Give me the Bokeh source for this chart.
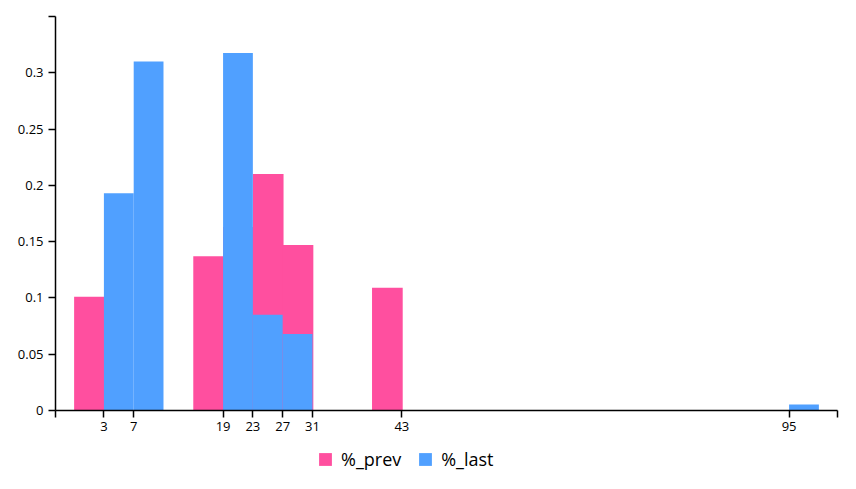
from bokeh.plotting import figure
from bokeh.models import Range1d, FixedTicker, Legend, LegendItem, ColumnDataSource
from bokeh.layouts import column
from bokeh.embed import file_html
from bokeh.resources import INLINE

# Data (bin start, value)
prev_bin_start = [-1, 15, 19, 23, 27, 39]
prev_values = [0.101, 0.137, 0.163, 0.210, 0.147, 0.109]
last_bin_start = [3, 7, 19, 23, 27, 95]
last_values = [0.193, 0.310, 0.3175, 0.085, 0.068, 0.0053]
bin_width = 4
x_tick_values = [3, 7, 19, 23, 27, 31, 43, 95]
y_tick_values = [0, 0.05, 0.1, 0.15, 0.2, 0.25, 0.3]
y_tick_labels = ["0", "0.05", "0.1", "0.15", "0.2", "0.25", "0.3"]
series_names = ["%_prev", "%_last"]

PINK = "#FF4F9F"
BLUE = "#50A0FF"
FONT = "Open Sans"

x_lo, x_hi = -3.5, 101.5
y_lo, y_hi = 0, 0.35

p = figure(width=848, height=440, output_backend="svg", toolbar_location=None,
           x_range=Range1d(x_lo, x_hi), y_range=Range1d(y_lo, y_hi),
           min_border_left=55, min_border_right=11, min_border_top=16,
           min_border_bottom=30)
p.outline_line_color = None
p.xgrid.visible = False
p.ygrid.visible = False
p.background_fill_color = "white"
p.border_fill_color = "white"

prev_src = ColumnDataSource(dict(
    left=prev_bin_start,
    right=[s + bin_width * 1.03 for s in prev_bin_start],
    top=prev_values,
    bottom=[0] * len(prev_values)))
last_src = ColumnDataSource(dict(
    left=last_bin_start,
    right=[s + bin_width for s in last_bin_start],
    top=last_values,
    bottom=[0] * len(last_values)))

p.quad(left="left", right="right", top="top", bottom="bottom",
       source=prev_src, fill_color=PINK, line_color=None)
p.quad(left="left", right="right", top="top", bottom="bottom",
       source=last_src, fill_color=BLUE, line_color=None)

# Axes
xa = p.xaxis[0]
xa.ticker = FixedTicker(ticks=[x_lo] + x_tick_values + [x_hi])
xa.major_label_overrides = {x_lo: "", x_hi: ""}
xa.minor_tick_line_color = None
xa.major_tick_out = 7
xa.major_tick_in = 0
xa.major_label_standoff = 4
xa.axis_line_width = 1.5
xa.major_tick_line_width = 1.5
xa.major_label_text_font = FONT
xa.major_label_text_font_size = "13px"
xa.major_label_text_color = "black"

ya = p.yaxis[0]
ya.ticker = FixedTicker(ticks=y_tick_values + [y_hi])
ov = {v: l for v, l in zip(y_tick_values, y_tick_labels)}
ov[y_hi] = ""
ya.major_label_overrides = ov
ya.minor_tick_line_color = None
ya.major_tick_out = 7
ya.major_tick_in = 0
ya.major_label_standoff = 5
ya.axis_line_width = 1.5
ya.major_tick_line_width = 1.5
ya.major_label_text_font = FONT
ya.major_label_text_font_size = "13px"
ya.major_label_text_color = "black"

# Legend strip below the chart (its frame is aligned with the chart's frame)
lg = figure(width=848, height=43, output_backend="svg", toolbar_location=None,
            x_range=Range1d(0, 1), y_range=Range1d(0, 1),
            x_axis_location=None, y_axis_location=None,
            min_border=0)
lg.outline_line_color = None
lg.xgrid.visible = False
lg.ygrid.visible = False
# swatch renderers placed outside the visible range (only used for legend glyphs)
swatch = dict(left=[5], right=[6], top=[5], bottom=[4])
g_prev = lg.quad(left="left", right="right", top="top", bottom="bottom",
                 source=ColumnDataSource(swatch), fill_color=PINK, line_color=None)
g_last = lg.quad(left="left", right="right", top="top", bottom="bottom",
                 source=ColumnDataSource(swatch), fill_color=BLUE, line_color=None)

legend = Legend(items=[LegendItem(label=series_names[0], renderers=[g_prev]),
                       LegendItem(label=series_names[1], renderers=[g_last])],
                orientation="horizontal", location=(262, 12),
                padding=0, margin=0, spacing=16,
                glyph_width=16, glyph_height=16, label_height=16,
                label_standoff=8,
                label_text_font=FONT, label_text_font_size="18px",
                label_text_color="black",
                border_line_color=None, background_fill_alpha=0)
lg.add_layout(legend, "center")

layout = column(p, lg)
open("out.html", "w").write(file_html(layout, INLINE))
